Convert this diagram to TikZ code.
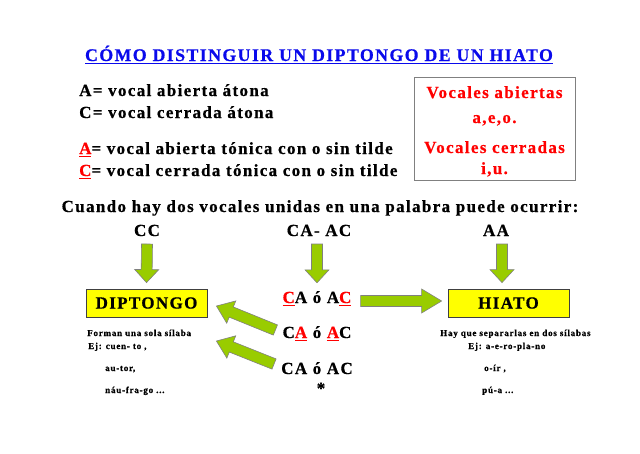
\documentclass[tikz,border=0pt]{standalone}
\usepackage{fontspec}
\setmainfont{Liberation Serif}[LetterSpace=8, BoldFeatures={FakeBold=0.6}]
\usetikzlibrary{calc}
\definecolor{titleblue}{RGB}{10,10,235}
\definecolor{arrowgreen}{RGB}{153,204,0}
\definecolor{arrowline}{RGB}{128,128,128}
\definecolor{boxyellow}{RGB}{255,255,0}
\newcommand\undl[1]{\leavevmode\vtop{\hbox{#1}\kern1.6pt\hrule height 1.3pt}}
\newcommand\redul[1]{\textcolor{red}{\undl{#1}}}
\tikzset{
  blockarrow/.style={draw=arrowline, fill=arrowgreen, line width=0.6pt, line join=miter,
    to path={let \p1=(\tikztostart), \p2=(\tikztotarget),
      \n1={atan2(\y2-\y1,\x2-\x1)}, \n2={veclen(\x2-\x1,\y2-\y1)} in
      {[shift={(\p1)}, rotate=\n1]
      (0pt,-5.5pt) -- (\n2-#1,-5.5pt) -- (\n2-#1,-12pt) -- (\n2,0pt)
      -- (\n2-#1,12pt) -- (\n2-#1,5.5pt) -- (0pt,5.5pt) -- cycle}}},
  blockarrow/.default=13pt
}
\begin{document}
\begin{tikzpicture}[x=1pt,y=-1pt]
\tikzstyle{every node}+=[inner sep=0pt]
\tikzstyle{big}=[font=\fontsize{17}{19}\selectfont\bfseries]
\tikzstyle{small}=[font=\fontsize{9.1}{10}\selectfont\bfseries]
\tikzstyle{rtext}=[big, text=red, anchor=base]
\tikzstyle{keybox}=[big, draw=black!75, fill=boxyellow, line width=0.8pt, minimum width=121pt, minimum height=28pt]
\tikzstyle{calines}=[big, text height=12pt, text depth=4pt, anchor=base]
\useasboundingbox (0,0) rectangle (640,453);
\node[font=\fontsize{17.8}{20}\selectfont\bfseries, text=titleblue, anchor=base] (title) at (319,61) {\undl{CÓMO DISTINGUIR UN DIPTONGO DE UN HIATO}};
\node[big, anchor=base west] (aat) at (79,96) {A= vocal abierta átona};
\node[big, anchor=base west] (cat) at (79,118) {C= vocal cerrada átona};
\node[big, anchor=base west] (ato) at (79,154) {\redul{A}= vocal abierta tónica con o sin tilde};
\node[big, anchor=base west] (cto) at (79,176) {\redul{C}= vocal cerrada tónica con o sin tilde};
\node[draw=arrowline, line width=0.8pt, minimum width=161pt, minimum height=103pt] (vbox) at (494.5,128.5) {};
\node[rtext] (abier) at (494.5,98) {Vocales abiertas};
\node[rtext] (aeo) at (494.5,123) {a,e,o.};
\node[rtext] (cerr) at (494.5,153) {Vocales cerradas};
\node[rtext] (iu) at (494.5,174) {i,u.};
\node[big, anchor=base] (cuando) at (320,212) {Cuando hay dos vocales unidas en una palabra puede ocurrir:};
\node[big, anchor=base] (cc) at (147,236) {CC};
\node[big, anchor=base] (caac) at (319,236) {CA- AC};
\node[big, anchor=base] (aa) at (496,236) {AA};
\node[keybox] (dipt) at (146.5,303) {DIPTONGO};
\node[keybox] (hiato) at (508.5,303) {HIATO};
\node[calines] (ca1) at (317,303) {\redul{C}A ó A\redul{C}};
\node[calines] (ca2) at (317,338) {C\redul{A} ó \redul{A}C};
\node[calines] (ca3) at (317,374) {CA ó AC};
\node[big, anchor=base] (star) at (321,394) {*};
\node[small, anchor=base west] (forman) at (87,336) {Forman una sola sílaba};
\node[small, anchor=base west] (ejd) at (88,349) {Ej: cuen- to ,};
\node[small, anchor=base west] (autor) at (105,371) {au-tor,};
\node[small, anchor=base west] (naufrago) at (105,393) {náu-fra-go ...};
\node[small, anchor=base west] (separar) at (440,336) {Hay que separarlas en dos sílabas};
\node[small, anchor=base west] (ejh) at (468,349) {Ej: a-e-ro-pla-no};
\node[small, anchor=base west] (oir) at (484,371) {o-ír ,};
\node[small, anchor=base west] (pua) at (482,393) {pú-a ...};
\draw[blockarrow] ([yshift=-8pt]cc.base) to ([yshift=6pt]dipt.north);
\draw[blockarrow] ([xshift=-2pt,yshift=-8pt]caac.base) to ([yshift=8pt]ca1.north);
\draw[blockarrow] ([xshift=6pt,yshift=-8pt]aa.base) to ([xshift=-6.5pt,yshift=6pt]hiato.north);
\draw[blockarrow=20pt] ($(ca1.east)+(9,2)$) to ($(ca1.east -| hiato.west)+(-6,2)$);
\draw[blockarrow=16pt] ($(ca2.west)+(-7,-4)$) to ($(dipt.east)+(9,3)$);
\draw[blockarrow=16pt] ($(ca3.west)+(-7,-6)$) to ($(dipt.east)+(9,38)$);
\end{tikzpicture}
\end{document}
